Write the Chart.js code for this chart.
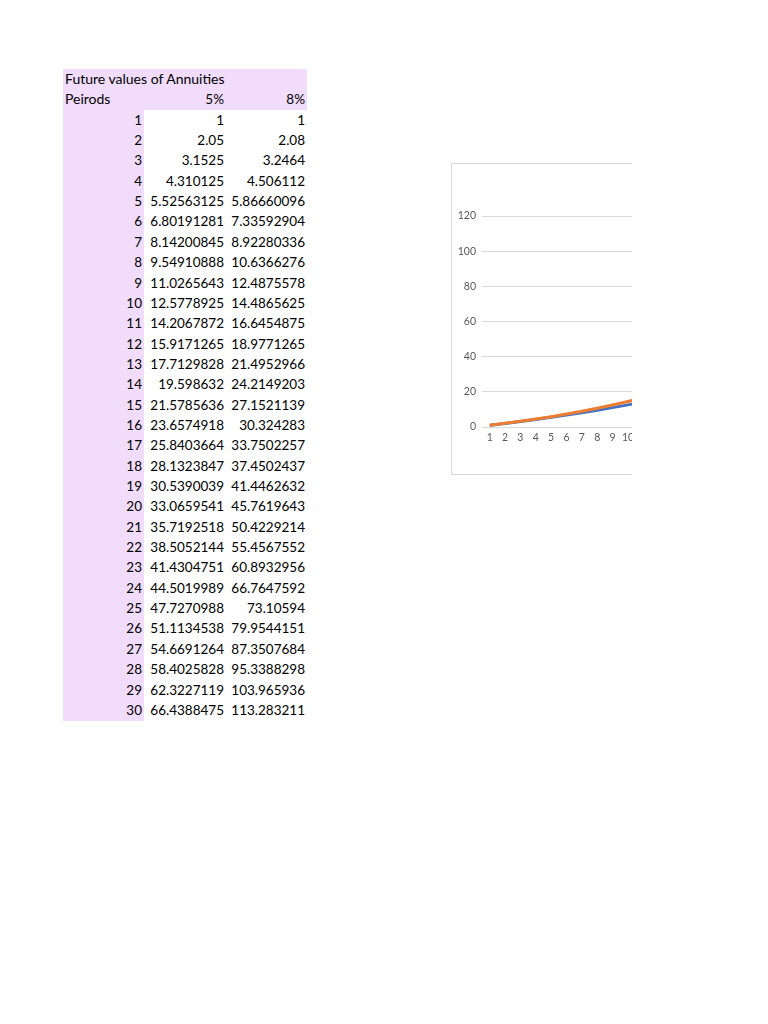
<!DOCTYPE html>
<html>
<head>
<meta charset="utf-8">
<script src="https://cdn.jsdelivr.net/npm/chart.js@4"></script>
<style>
  body { margin: 0; background: #fff; width: 768px; height: 1024px; position: relative; overflow: hidden; font-family: Lato, "Open Sans", sans-serif; }
  .cell { position: absolute; height: 20px; line-height: 20px; font-size: 13.5px; color: #000; white-space: nowrap; box-sizing: border-box; }
  .purple { background: #f2dcfb; }
  .right { text-align: right; padding-right: 2px; }
  .left { padding-left: 2px; font-size: 14px; }
  #chartBox { position: absolute; left: 451px; top: 163px; width: 181px; height: 312px; overflow: hidden;
    border-left: 1px solid #d9d9d9; border-top: 1px solid #d9d9d9; border-bottom: 1px solid #d9d9d9; box-sizing: border-box; }
  #chartWrap { position: absolute; left: 0; top: 0; width: 500px; height: 310px; }
</style>
</head>
<body>
<div id="sheet"></div>
<div id="chartBox"><div id="chartWrap"><canvas id="chart"></canvas></div></div>
<script>
// sheet data
const title = "Future values of Annuities";
const headers = ["Peirods", "5%", "8%"];
const periods = [1, 2, 3, 4, 5, 6, 7, 8, 9, 10, 11, 12, 13, 14, 15, 16, 17, 18, 19, 20, 21, 22, 23, 24, 25, 26, 27, 28, 29, 30];
const rate5 = [1, 2.05, 3.1525, 4.310125, 5.52563125, 6.80191281, 8.14200845, 9.54910888, 11.0265643, 12.5778925,
  14.2067872, 15.9171265, 17.7129828, 19.598632, 21.5785636, 23.6574918, 25.8403664, 28.1323847, 30.5390039, 33.0659541,
  35.7192518, 38.5052144, 41.4304751, 44.5019989, 47.7270988, 51.1134538, 54.6691264, 58.4025828, 62.3227119, 66.4388475];
const rate8 = [1, 2.08, 3.2464, 4.506112, 5.86660096, 7.33592904, 8.92280336, 10.6366276, 12.4875578, 14.4865625,
  16.6454875, 18.9771265, 21.4952966, 24.2149203, 27.1521139, 30.324283, 33.7502257, 37.4502437, 41.4462632, 45.7619643,
  50.4229214, 55.4567552, 60.8932956, 66.7647592, 73.10594, 79.9544151, 87.3507684, 95.3388298, 103.965936, 113.283211];
const yTicks = [0, 20, 40, 60, 80, 100, 120];

// column layout of the sheet
const colX = [63, 144, 226];
const colW = [81, 82, 81];
const rowTop = 69;
const rowH = 20.35;

const sheet = document.getElementById("sheet");
function addCell(text, col, row, cls, span) {
  const d = document.createElement("div");
  d.className = "cell " + cls;
  d.style.left = colX[col] + "px";
  d.style.top = (rowTop + row * rowH) + "px";
  d.style.height = (rowH + 0.5) + "px";
  let w = 0;
  for (let i = col; i < col + (span || 1); i++) w += colW[i];
  d.style.width = w + "px";
  d.textContent = text;
  sheet.appendChild(d);
}

// header rows (all purple)
addCell(title, 0, 0, "purple left", 3);
addCell(headers[0], 0, 1, "purple left");
addCell(headers[1], 1, 1, "purple right");
addCell(headers[2], 2, 1, "purple right");

// body rows
periods.forEach(function (p, i) {
  addCell(String(p), 0, i + 2, "purple right");
  addCell(String(rate5[i]), 1, i + 2, "right");
  addCell(String(rate8[i]), 2, i + 2, "right");
});

// chart - orange series drawn on top like the sheet
new Chart(document.getElementById("chart"), {
  type: "line",
  data: {
    labels: periods,
    datasets: [
      { label: "5%", data: rate5, borderColor: "#4472c4", borderWidth: 3, pointRadius: 0, tension: 0, order: 1 },
      { label: "8%", data: rate8, borderColor: "#ed7d31", borderWidth: 3, pointRadius: 0, tension: 0, order: 0 }
    ]
  },
  options: {
    responsive: true,
    maintainAspectRatio: false,
    animation: false,
    layout: { padding: { top: 52, right: 9, bottom: 0, left: 0 } },
    plugins: { legend: { display: false }, tooltip: { enabled: false } },
    scales: {
      x: {
        offset: true,
        grid: { display: false, drawTicks: false },
        border: { display: true, color: "#d9d9d9", width: 1 },
        ticks: { color: "#595959", font: { family: "Lato", size: 10.5 }, padding: 4, maxRotation: 0, autoSkip: false },
        afterFit: function (scale) { scale.height = 47; }
      },
      y: {
        min: 0,
        max: 120,
        afterBuildTicks: function (scale) { scale.ticks = yTicks.map(function (v) { return { value: v }; }); },
        grid: { color: "#d9d9d9", drawTicks: false },
        border: { display: false },
        ticks: { color: "#595959", font: { family: "Lato", size: 10.5 }, padding: 6 },
        afterFit: function (scale) { scale.width = 30; }
      }
    }
  }
});
</script>
</body>
</html>
